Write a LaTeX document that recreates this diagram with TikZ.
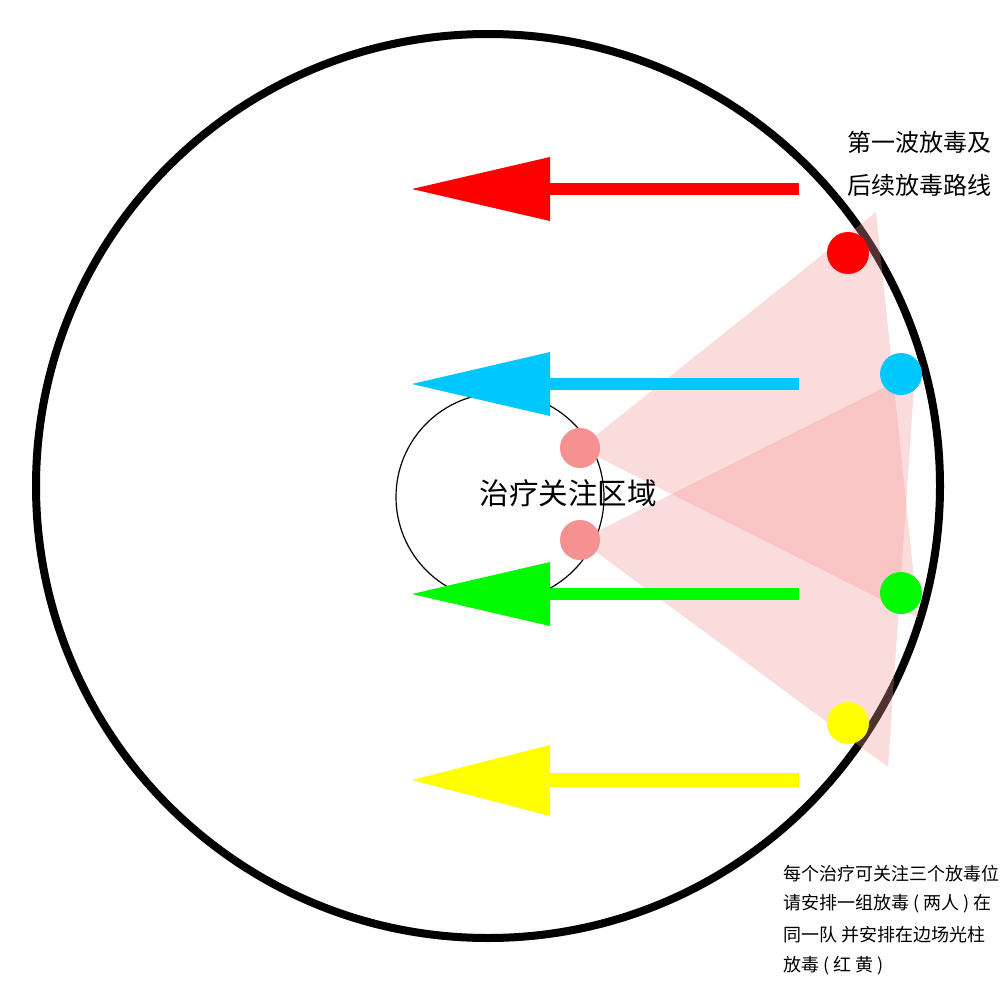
\documentclass[tikz,border=0pt]{standalone}
\usepackage{fontspec}
\newfontfamily\cjk{Noto Sans CJK SC}
\definecolor{arrred}{RGB}{255,0,0}
\definecolor{arrblue}{RGB}{0,200,255}
\definecolor{arrgreen}{RGB}{0,250,0}
\definecolor{arryellow}{RGB}{255,255,0}
\definecolor{healpink}{RGB}{245,145,145}
\definecolor{conepink}{RGB}{245,150,150}
\begin{document}
\begin{tikzpicture}[x=0.5pt,y=-0.5pt,
  shaft/.style={line width=6.25pt},
  dot/.style={circle,inner sep=0pt,minimum size=21pt},
  cone/.style={fill=conepink,fill opacity=0.33},
  lbl/.style={inner sep=0pt,anchor=west,font=\cjk\fontsize{9pt}{10pt}\selectfont},
  toplbl/.style={inner sep=0pt,anchor=west,font=\cjk\fontsize{12pt}{13pt}\selectfont}]
\useasboundingbox (0,0) rectangle (1000,1000);
\fill[white] (0,0) rectangle (1000,1000);

% arena
\node[draw=black,line width=4pt,circle,inner sep=0pt,minimum size=452pt] (arena) at (488,486) {};
% healing zone
\node[draw=black,line width=0.6pt,circle,inner sep=0pt,minimum size=104pt] (zone) at (500,497) {};

% healer positions
\coordinate (h1c) at (580,448);
\coordinate (h2c) at (580,540);

% cones
\coordinate (a1) at (876,212);
\coordinate (a2) at (918,618);
\coordinate (b1) at (915,372);
\coordinate (b2) at (888,767);
\fill[cone] (h1c) -- (a1) -- (a2) -- cycle;
\fill[cone] (h2c) -- (b1) -- (b2) -- cycle;

% arrows
\coordinate (rs) at (799,189); \coordinate (rb) at (548,189); \coordinate (rt) at (412,189);
\draw[shaft,arrred] (rs) -- (rb);
\fill[arrred] (rt) -- (550,157) -- (550,221) -- cycle;

\coordinate (bs) at (799,384); \coordinate (bb) at (548,384); \coordinate (bt) at (412,384);
\draw[shaft,arrblue] (bs) -- (bb);
\fill[arrblue] (bt) -- (550,352) -- (550,416) -- cycle;

\coordinate (gs) at (799,594); \coordinate (gb) at (548,594); \coordinate (gt) at (412,594);
\draw[shaft,arrgreen] (gs) -- (gb);
\fill[arrgreen] (gt) -- (550,562) -- (550,626) -- cycle;

\coordinate (ys) at (799,780); \coordinate (yb) at (548,780); \coordinate (yt) at (412,780);
\draw[line width=7pt,arryellow] (ys) -- (yb);
\fill[arryellow] (yt) -- (550,745) -- (550,816) -- cycle;

% healer dots
\node[dot,fill=healpink,minimum size=20pt] (h1) at (h1c) {};
\node[dot,fill=healpink,minimum size=20pt] (h2) at (h2c) {};

% poison dots
\node[dot,fill=arrred] (pr) at (848,253) {};
\node[dot,fill=arrblue] (pb) at (901,374) {};
\node[dot,fill=arrgreen] (pg) at (901,593) {};
\node[dot,fill=arryellow] (py) at (848,723) {};

% texts
\node[inner sep=0pt,font=\cjk\fontsize{14.75pt}{16pt}\selectfont] (zonelbl) at (568,493) {治疗关注区域};
\node[toplbl] (t1) at (847,142) {第一波放毒及};
\node[toplbl] (t2) at (847,185) {后续放毒路线};
\node[lbl] (n1) at (783,874) {每个治疗可关注三个放毒位};
\node[lbl] (n2) at (783,904) {请安排一组放毒 ( 两人 ) 在};
\node[lbl] (n3) at (783,935) {同一队 并安排在边场光柱};
\node[lbl] (n4) at (783,966) {放毒 ( 红 黄 )};
\end{tikzpicture}
\end{document}
